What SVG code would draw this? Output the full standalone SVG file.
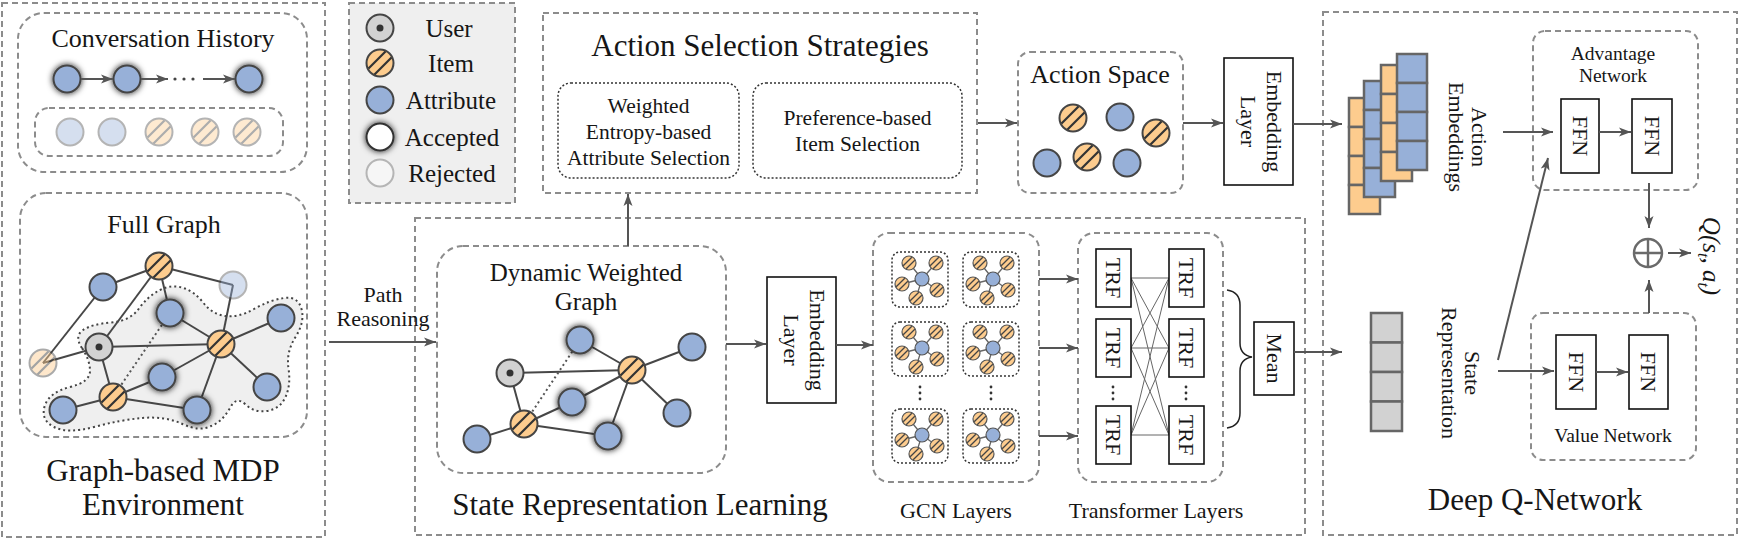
<svg xmlns="http://www.w3.org/2000/svg" width="1742" height="540" viewBox="0 0 1742 540">
<style>
text{font-family:"Liberation Serif","Times New Roman",serif;fill:#161616;text-anchor:middle}
.big{font-size:31px}
.mid{font-size:26px}
.lg{font-size:25px}
.sm{font-size:22px}
.xs{font-size:21.5px}
.xxs{font-size:19.5px}
.sec{fill:none;stroke:#8c8c8c;stroke-width:2;stroke-dasharray:6 4}
.dot{fill:none;stroke:#333;stroke-width:1.5;stroke-dasharray:2 2}
.blk{fill:#fff;stroke:#111;stroke-width:1.6}
.edge{stroke:#474747;stroke-width:2;fill:none}
.dedge{stroke:#555;stroke-width:2;fill:none;stroke-dasharray:2 3}
.arr{stroke:#555;stroke-width:2;fill:none;marker-end:url(#ah)}
.thin{stroke:#666;stroke-width:1;fill:none}
.ocell{fill:#fdcc8e;stroke:#666;stroke-width:2.5}
.bcell{fill:#97b0d8;stroke:#666;stroke-width:2.5}
.gcell{fill:#d2d2d2;stroke:#666;stroke-width:2.5}
</style>
<defs>
<marker id="ah" markerUnits="userSpaceOnUse" markerWidth="13" markerHeight="10" refX="12" refY="5" orient="auto"><path d="M0,0.5 L12,5 L0,9.5 L3,5 Z" fill="#555"/></marker>
<filter id="glow" x="-60%" y="-60%" width="220%" height="220%">
<feGaussianBlur in="SourceAlpha" stdDeviation="3" result="b"/>
<feFlood flood-color="#111" flood-opacity="0.9"/>
<feComposite in2="b" operator="in" result="s"/>
<feMerge><feMergeNode in="s"/><feMergeNode in="SourceGraphic"/></feMerge>
</filter>
<circle id="attr" r="13.5" fill="#97b0d8" stroke="#454545" stroke-width="2"/>
<g id="item"><circle r="13.5" fill="#fdcc8e" stroke="#454545" stroke-width="2"/><path d="M-11.5,5.5 L5.5,-11.5 M-5.5,11.5 L11.5,-5.5" stroke="#333" stroke-width="2.2" fill="none"/></g>
<g id="user"><circle r="13.5" fill="#d2d2d2" stroke="#454545" stroke-width="2"/><circle r="3.5" fill="#333"/></g>
<g id="sitem"><circle r="7" fill="#fdcc8e" stroke="#555" stroke-width="1.2"/><path d="M-5.8,2.8 L2.8,-5.8 M-2.8,5.8 L5.8,-2.8" stroke="#444" stroke-width="1.3" fill="none"/></g>
<g id="star">
<path d="M0,0 L-13,-16 M0,0 L14,-16 M0,0 L-20,5 M0,0 L15,11 M0,0 L-6,19" stroke="#666" stroke-width="1.3"/>
<use href="#sitem" x="-13" y="-16"/><use href="#sitem" x="14" y="-16"/><use href="#sitem" x="-20" y="5"/><use href="#sitem" x="15" y="11"/><use href="#sitem" x="-6" y="19"/>
<circle r="7" fill="#97b0d8" stroke="#555" stroke-width="1.2"/>
</g>
<g id="vdots"><circle cy="-6" r="1.4" fill="#333"/><circle cy="0" r="1.4" fill="#333"/><circle cy="6" r="1.4" fill="#333"/></g>
</defs>
<rect width="1742" height="540" fill="#fff"/>

<!-- Graph-based MDP Environment -->
<g id="env">
<rect class="sec" x="2" y="3" width="323" height="534"/>
<text class="big" x="163" y="481">Graph-based MDP</text>
<text class="big" x="163" y="515">Environment</text>
</g>

<g id="conversation-history">
<rect class="sec" x="18" y="13" width="289" height="159" rx="26"/>
<text class="mid" x="163" y="47">Conversation History</text>
<use href="#attr" x="67" y="79" filter="url(#glow)"/>
<use href="#attr" x="127" y="79" filter="url(#glow)"/>
<use href="#attr" x="249" y="79" filter="url(#glow)"/>
<line class="arr" x1="81" y1="79" x2="113" y2="79"/>
<line class="arr" x1="141" y1="79" x2="168" y2="79"/>
<circle cx="175" cy="79" r="1.6" fill="#444"/><circle cx="184" cy="79" r="1.6" fill="#444"/><circle cx="193" cy="79" r="1.6" fill="#444"/>
<line class="arr" x1="203" y1="79" x2="235" y2="79"/>
<rect class="sec" x="35" y="108" width="248" height="48" rx="14"/>
<g opacity="0.4">
<use href="#attr" x="70" y="132"/>
<use href="#attr" x="112" y="132"/>
<use href="#item" x="159" y="132"/>
<use href="#item" x="205" y="132"/>
<use href="#item" x="247" y="132"/>
</g>
</g>

<g id="full-graph">
<rect class="sec" x="20" y="193" width="287" height="244" rx="26"/>
<text class="mid" x="164" y="233">Full Graph</text>
<path d="M82,348 Q74,336 83,330 Q92,324 111,322.5 Q130,321 139,308.5 Q148,296 160,290 Q172,284 183.5,288 Q195,292 203.5,303 Q212,314 225,316 Q238,318 254,309 Q270,300 284,298 Q298,296 301.5,309 Q305,322 295.5,337 Q286,352 288.5,368.5 Q291,385 285.5,397 Q280,409 267,411 Q254,413 245,404 Q236,396 230,408 Q222,422 211,426 Q200,432 182.5,424 Q165,416 142.5,418 Q120,420 94,427 Q68,434 54,427 Q40,420 45,405 Q50,392 70,387 Q90,382 90,371 Q90,360 82,348 Z" fill="#efefef" stroke="#444" stroke-width="2" stroke-dasharray="2 3"/>
<g class="edge">
<line x1="159" y1="266" x2="103" y2="287"/>
<line x1="159" y1="266" x2="233" y2="285"/>
<line x1="159" y1="266" x2="170" y2="313"/>
<line x1="159" y1="266" x2="99" y2="347"/>
<line x1="103" y1="287" x2="43" y2="363"/>
<line x1="43" y1="363" x2="99" y2="347"/>
<line x1="99" y1="347" x2="221" y2="344"/>
<line x1="99" y1="347" x2="113" y2="397"/>
<line x1="113" y1="397" x2="162" y2="377"/>
<line x1="113" y1="397" x2="63" y2="410"/>
<line x1="113" y1="397" x2="197" y2="410"/>
<line x1="170" y1="313" x2="221" y2="344"/>
<line x1="162" y1="377" x2="221" y2="344"/>
<line x1="221" y1="344" x2="281" y2="318"/>
<line x1="221" y1="344" x2="267" y2="387"/>
<line x1="221" y1="344" x2="197" y2="410"/>
<line x1="233" y1="285" x2="221" y2="344"/>
</g>
<line class="dedge" x1="113" y1="397" x2="170" y2="313"/>
<use href="#item" x="159" y="266"/>
<use href="#attr" x="103" y="287"/>
<use href="#attr" x="233" y="285" opacity="0.4"/>
<use href="#attr" x="170" y="313" filter="url(#glow)"/>
<use href="#attr" x="281" y="318"/>
<use href="#user" x="99" y="347"/>
<use href="#item" x="221" y="344"/>
<use href="#item" x="43" y="363" opacity="0.45"/>
<use href="#attr" x="162" y="377" filter="url(#glow)"/>
<use href="#attr" x="267" y="387"/>
<use href="#item" x="113" y="397"/>
<use href="#attr" x="63" y="410"/>
<use href="#attr" x="197" y="410" filter="url(#glow)"/>
</g>

<g id="legend">
<rect x="349" y="3" width="166" height="200" fill="#efefef" stroke="#8c8c8c" stroke-width="2" stroke-dasharray="6 4"/>
<use href="#user" x="380" y="28"/>
<text class="lg" x="449" y="37">User</text>
<use href="#item" x="380" y="63"/>
<text class="lg" x="451" y="72">Item</text>
<use href="#attr" x="380" y="100"/>
<text class="lg" x="451" y="109">Attribute</text>
<circle cx="380" cy="137" r="13.5" fill="#fff" stroke="#333" stroke-width="2" filter="url(#glow)"/>
<text class="lg" x="452" y="146">Accepted</text>
<circle cx="380" cy="173" r="13.5" fill="#f6f6f6" stroke="#b5b5b5" stroke-width="2"/>
<text class="lg" x="452" y="182">Rejected</text>
</g>

<g id="action-selection">
<rect class="sec" x="543" y="13" width="434" height="180"/>
<text class="big" x="760" y="56">Action Selection Strategies</text>
<rect class="dot" x="558" y="83" width="181" height="95" rx="13"/>
<text class="xs" x="648.5" y="113">Weighted</text>
<text class="xs" x="648.5" y="139">Entropy-based</text>
<text class="xs" x="648.5" y="165">Attribute Selection</text>
<rect class="dot" x="753" y="83" width="209" height="95" rx="13"/>
<text class="xs" x="857.5" y="125">Preference-based</text>
<text class="xs" x="857.5" y="151">Item Selection</text>
</g>

<g id="action-space">
<rect class="sec" x="1018" y="52" width="165" height="141" rx="12"/>
<text class="mid" x="1100" y="83">Action Space</text>
<use href="#item" x="1073" y="118"/>
<use href="#attr" x="1120" y="117"/>
<use href="#item" x="1156" y="133"/>
<use href="#attr" x="1047" y="163"/>
<use href="#item" x="1087" y="157"/>
<use href="#attr" x="1127" y="163"/>
</g>

<g id="embedding-layer-top">
<rect class="blk" x="1224" y="58" width="69" height="127"/>
<text class="sm" transform="translate(1258.5,121.5) rotate(90)"><tspan x="0" y="-8">Embedding</tspan><tspan x="0" y="18">Layer</tspan></text>
</g>

<g id="state-representation-learning">
<rect class="sec" x="415" y="218" width="890" height="317"/>
<text class="big" x="640" y="515">State Representation Learning</text>
</g>

<g id="dynamic-weighted-graph">
<rect class="sec" x="437" y="246" width="289" height="227" rx="26"/>
<text class="lg" x="586" y="281">Dynamic Weighted</text>
<text class="lg" x="586" y="310">Graph</text>
<g class="edge">
<line x1="510" y1="373" x2="632" y2="370"/>
<line x1="510" y1="373" x2="524" y2="424"/>
<line x1="524" y1="424" x2="477" y2="439"/>
<line x1="524" y1="424" x2="572" y2="402"/>
<line x1="524" y1="424" x2="608" y2="436"/>
<line x1="580" y1="340" x2="632" y2="370"/>
<line x1="572" y1="402" x2="632" y2="370"/>
<line x1="632" y1="370" x2="692" y2="347"/>
<line x1="632" y1="370" x2="677" y2="413"/>
<line x1="632" y1="370" x2="608" y2="436"/>
</g>
<line class="dedge" x1="524" y1="424" x2="580" y2="340"/>
<use href="#attr" x="580" y="340" filter="url(#glow)"/>
<use href="#attr" x="692" y="347"/>
<use href="#user" x="510" y="373"/>
<use href="#item" x="632" y="370"/>
<use href="#attr" x="572" y="402" filter="url(#glow)"/>
<use href="#attr" x="677" y="413"/>
<use href="#item" x="524" y="424"/>
<use href="#attr" x="477" y="439"/>
<use href="#attr" x="608" y="436" filter="url(#glow)"/>
</g>

<g id="embedding-layer-mid">
<rect class="blk" x="767" y="277" width="69" height="126"/>
<text class="sm" transform="translate(801.5,340) rotate(90)"><tspan x="0" y="-8">Embedding</tspan><tspan x="0" y="18">Layer</tspan></text>
</g>

<g id="gcn-layers">
<rect class="sec" x="873" y="233" width="166" height="249" rx="16"/>
<rect class="dot" x="892" y="252" width="56" height="55" rx="8"/>
<rect class="dot" x="963" y="252" width="56" height="55" rx="8"/>
<rect class="dot" x="892" y="322" width="56" height="54" rx="8"/>
<rect class="dot" x="963" y="322" width="56" height="54" rx="8"/>
<rect class="dot" x="892" y="409" width="56" height="54" rx="8"/>
<rect class="dot" x="963" y="409" width="56" height="54" rx="8"/>
<use href="#star" x="922" y="279"/>
<use href="#star" x="993" y="279"/>
<use href="#star" x="922" y="348"/>
<use href="#star" x="993" y="348"/>
<use href="#star" x="922" y="435"/>
<use href="#star" x="993" y="435"/>
<use href="#vdots" x="920" y="393"/>
<use href="#vdots" x="991" y="393"/>
<text class="sm" x="956" y="518">GCN Layers</text>
</g>

<g id="transformer-layers">
<rect class="sec" x="1078" y="233" width="145" height="249" rx="16"/>
<g class="thin">
<line x1="1131" y1="278" x2="1169" y2="278"/><line x1="1131" y1="278" x2="1169" y2="348"/><line x1="1131" y1="278" x2="1169" y2="435"/>
<line x1="1131" y1="348" x2="1169" y2="278"/><line x1="1131" y1="348" x2="1169" y2="348"/><line x1="1131" y1="348" x2="1169" y2="435"/>
<line x1="1131" y1="435" x2="1169" y2="278"/><line x1="1131" y1="435" x2="1169" y2="348"/><line x1="1131" y1="435" x2="1169" y2="435"/>
</g>
<rect class="blk" x="1096" y="249" width="35" height="58"/>
<rect class="blk" x="1096" y="319" width="35" height="58"/>
<rect class="blk" x="1096" y="406" width="35" height="58"/>
<rect class="blk" x="1169" y="249" width="35" height="58"/>
<rect class="blk" x="1169" y="319" width="35" height="58"/>
<rect class="blk" x="1169" y="406" width="35" height="58"/>
<text class="sm" transform="translate(1113.5,278) rotate(90)" y="7.5">TRF</text>
<text class="sm" transform="translate(1113.5,348) rotate(90)" y="7.5">TRF</text>
<text class="sm" transform="translate(1113.5,435) rotate(90)" y="7.5">TRF</text>
<text class="sm" transform="translate(1186.5,278) rotate(90)" y="7.5">TRF</text>
<text class="sm" transform="translate(1186.5,348) rotate(90)" y="7.5">TRF</text>
<text class="sm" transform="translate(1186.5,435) rotate(90)" y="7.5">TRF</text>
<use href="#vdots" x="1113" y="393"/>
<use href="#vdots" x="1186" y="393"/>
<text class="sm" x="1156" y="518">Transformer Layers</text>
</g>

<g id="mean">
<path d="M1227,290 Q1240,292 1240,305 L1240,343 Q1240,355 1252,357 Q1240,359 1240,371 L1240,413 Q1240,426 1227,428" fill="none" stroke="#222" stroke-width="1.5"/>
<rect class="blk" x="1254" y="322" width="40" height="73"/>
<text class="sm" transform="translate(1274,358.5) rotate(90)" y="7.5">Mean</text>
</g>

<g id="deep-q-network">
<rect class="sec" x="1323" y="12" width="414" height="523"/>
<text class="big" x="1535" y="510">Deep Q-Network</text>
</g>

<g id="action-embeddings">
<g class="ocell"><rect x="1349" y="98" width="31" height="29"/><rect x="1349" y="127" width="31" height="29"/><rect x="1349" y="156" width="31" height="29"/><rect x="1349" y="185" width="31" height="29"/></g>
<g class="bcell"><rect x="1364" y="81" width="31" height="29"/><rect x="1364" y="110" width="31" height="29"/><rect x="1364" y="139" width="31" height="29"/><rect x="1364" y="168" width="31" height="29"/></g>
<g class="ocell"><rect x="1381" y="65" width="31" height="29"/><rect x="1381" y="94" width="31" height="29"/><rect x="1381" y="123" width="31" height="29"/><rect x="1381" y="152" width="31" height="29"/></g>
<g class="bcell"><rect x="1397" y="54" width="30" height="29"/><rect x="1397" y="83" width="30" height="29"/><rect x="1397" y="112" width="30" height="29"/><rect x="1397" y="141" width="30" height="29"/></g>
<text class="sm" transform="translate(1461,137) rotate(90)"><tspan x="0" y="-11">Action</tspan><tspan x="0" y="12">Embeddings</tspan></text>
</g>

<g id="state-representation">
<g class="gcell"><rect x="1371" y="313" width="31" height="29.5"/><rect x="1371" y="342.5" width="31" height="29.5"/><rect x="1371" y="372" width="31" height="29.5"/><rect x="1371" y="401.5" width="31" height="29.5"/></g>
<text class="sm" transform="translate(1454,373) rotate(90)"><tspan x="0" y="-11">State</tspan><tspan x="0" y="12">Representation</tspan></text>
</g>

<g id="advantage-network">
<rect class="sec" x="1533" y="31" width="165" height="159" rx="12"/>
<text class="xxs" x="1613" y="60">Advantage</text>
<text class="xxs" x="1613" y="82">Network</text>
<rect class="blk" x="1561" y="99" width="38" height="74"/>
<rect class="blk" x="1632" y="99" width="40" height="74"/>
<text class="sm" transform="translate(1580,136) rotate(90)" y="7.5">FFN</text>
<text class="sm" transform="translate(1652,136) rotate(90)" y="7.5">FFN</text>
</g>

<g id="value-network">
<rect class="sec" x="1531" y="313" width="165" height="147" rx="12"/>
<rect class="blk" x="1556" y="335" width="40" height="74"/>
<rect class="blk" x="1629" y="335" width="39" height="74"/>
<text class="sm" transform="translate(1576,372) rotate(90)" y="7.5">FFN</text>
<text class="sm" transform="translate(1648.5,372) rotate(90)" y="7.5">FFN</text>
<text class="xxs" x="1613" y="442">Value Network</text>
</g>

<g id="aggregation">
<circle cx="1648" cy="253" r="14" fill="none" stroke="#6a6a6a" stroke-width="2.4"/>
<path d="M1634,253 H1662 M1648,239 V267" stroke="#6a6a6a" stroke-width="2.4"/>
<text transform="translate(1703,256) rotate(90)" style="font-size:25px;font-style:italic">Q(s<tspan font-size="16" dy="5">t</tspan><tspan dy="-5">, a</tspan><tspan font-size="16" dy="5">t</tspan><tspan dy="-5">)</tspan></text>
</g>

<g id="connectors">
<line class="arr" x1="329" y1="342" x2="436" y2="342"/>
<text class="sm" x="383" y="302">Path</text>
<text class="sm" x="383" y="326">Reasoning</text>
<line class="arr" x1="628" y1="246" x2="628" y2="194"/>
<line class="arr" x1="978" y1="123" x2="1017" y2="123"/>
<line class="arr" x1="1183" y1="123" x2="1223" y2="123"/>
<line class="arr" x1="1293" y1="124" x2="1342" y2="124"/>
<line class="arr" x1="726" y1="344" x2="766" y2="344"/>
<line class="arr" x1="836" y1="345" x2="873" y2="345"/>
<line class="arr" x1="1039" y1="279" x2="1078" y2="279"/>
<line class="arr" x1="1039" y1="348" x2="1078" y2="348"/>
<line class="arr" x1="1039" y1="436" x2="1078" y2="436"/>
<line class="arr" x1="1294" y1="352" x2="1342" y2="352"/>
<line class="arr" x1="1503" y1="132" x2="1553" y2="132"/>
<line class="arr" x1="1599" y1="132" x2="1631" y2="132"/>
<line class="arr" x1="1498" y1="371" x2="1554" y2="371"/>
<line class="arr" x1="1498" y1="360" x2="1548" y2="158"/>
<line class="arr" x1="1596" y1="372" x2="1628" y2="372"/>
<line class="arr" x1="1649" y1="183" x2="1649" y2="228"/>
<line class="arr" x1="1649" y1="313" x2="1649" y2="280"/>
<line class="arr" x1="1668" y1="253" x2="1691" y2="253"/>
</g>
</svg>
